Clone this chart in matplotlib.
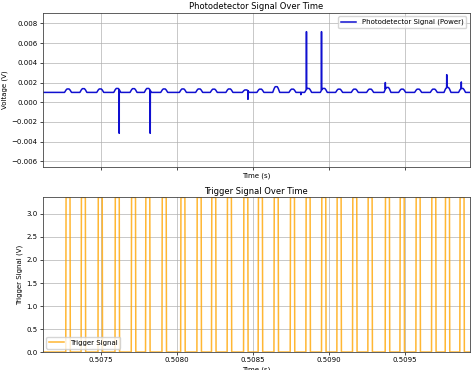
import numpy as np
import matplotlib
matplotlib.use("Agg")
import matplotlib.pyplot as plt

# time window shown (s)
t_start = 0.507116
t_end = 0.509928

# trigger pulse centres
pulse_t = [0.507283, 0.507384, 0.507495, 0.507607, 0.507714, 0.507808,
           0.507916, 0.508039, 0.508146, 0.508242, 0.508345, 0.508453,
           0.508549, 0.508653, 0.508760, 0.508863, 0.508966, 0.509067,
           0.509170, 0.509271, 0.509385, 0.509482, 0.509587, 0.509690,
           0.509780, 0.509876]
pulse_high = 3.36
pulse_width = 0.000026

# photodetector: baseline, hump peak at each trigger, spikes and dips
pd_base = 0.00100
bump_peak = [0.00135, 0.00138, 0.00135, 0.00140, 0.00138, 0.00140,
             0.00135, 0.00135, 0.00135, 0.00133, 0.00135, 0.00125,
             0.00133, 0.00158, 0.00133, 0.00140, 0.00140, 0.00133,
             0.00133, 0.00133, 0.00150, 0.00133, 0.00133, 0.00133,
             0.00150, 0.00140]
spike_t = [0.507620, 0.507824, 0.508852, 0.508951, 0.509371, 0.509775, 0.509871]
spike_v = [-0.00315, -0.00315, 0.00716, 0.00716, 0.00200, 0.00280, 0.00206]
dip_t = [0.508467, 0.508815]
dip_v = [0.00030, 0.00077]


def trigger_curve():
    t = [t_start]
    v = [0.0]
    half = pulse_width / 2
    for tc in pulse_t:
        t += [tc - half - 2e-6, tc - half, tc + half, tc + half + 2e-6]
        v += [0.0, pulse_high, pulse_high, 0.0]
    t.append(t_end)
    v.append(0.0)
    return np.array(t), np.array(v)


def photo_curve():
    px = 0.0005 / 76  # one pixel of the reference in seconds
    t = [t_start]
    v = [pd_base]
    for tc, pk in zip(pulse_t, bump_peak):
        h = pk - pd_base
        t += [tc - 3.5 * px, tc - 2 * px, tc - 1 * px, tc + 1 * px, tc + 2 * px, tc + 3.5 * px]
        v += [pd_base, pd_base + 0.7 * h, pk, pk, pd_base + 0.7 * h, pd_base]
    t.append(t_end)
    v.append(pd_base)
    t = np.array(t)
    v = np.array(v)
    extra_t = list(spike_t) + list(dip_t)
    extra_v = list(spike_v) + list(dip_v)
    for te, ve in zip(extra_t, extra_v):
        sh = np.interp([te - 0.7e-6, te + 0.7e-6], t, v)
        idx = np.searchsorted(t, te)
        t = np.insert(t, idx, [te - 0.7e-6, te, te + 0.7e-6])
        v = np.insert(v, idx, [sh[0], ve, sh[1]])
    return t, v


plt.rcParams.update({
    "font.size": 5.0,
    "axes.titlesize": 6.0,
    "axes.labelsize": 5.0,
    "xtick.labelsize": 5.0,
    "ytick.labelsize": 5.0,
    "legend.fontsize": 5.0,
    "axes.linewidth": 0.6,
    "axes.edgecolor": "#444444",
    "xtick.major.size": 2.0,
    "ytick.major.size": 2.0,
    "xtick.major.width": 0.5,
    "ytick.major.width": 0.5,
    "xtick.major.pad": 1.8,
    "ytick.major.pad": 1.8,
})

fig = plt.figure(figsize=(4.74, 3.70), dpi=100)
ax1 = fig.add_axes([0.090, 0.5495, 0.9015, 0.4162])
ax2 = fig.add_axes([0.090, 0.0486, 0.9015, 0.4182], sharex=ax1)

# Photodetector
pt, pv = photo_curve()
ax1.plot(pt, pv, color="#1010d0", linewidth=1.1, label="Photodetector Signal (Power)")
ax1.set_ylim(-0.00653, 0.00908)
ax1.set_title("Photodetector Signal Over Time", pad=2.5)
ax1.set_xlabel("Time (s)", labelpad=2)
ax1.set_ylabel("Voltage (V)", labelpad=2)
ax1.legend(loc="upper right", handlelength=2.2, borderpad=0.4, framealpha=0.8)
ax1.grid(True, color="#b0b0b0", linewidth=0.7, alpha=0.7)
ax1.tick_params(labelbottom=False)

# Trigger
tt, tv = trigger_curve()
ax2.plot(tt, tv, color="orange", alpha=0.8, linewidth=1.1, label="Trigger Signal")
ax2.set_ylim(0, 3.363)
ax2.set_xlim(t_start, t_end)
ax2.set_title("Trigger Signal Over Time", pad=2.5)
ax2.set_xlabel("Time (s)", labelpad=2)
ax2.set_ylabel("Trigger Signal (V)", labelpad=2)
ax2.legend(loc="lower left", handlelength=2.2, borderpad=0.4, framealpha=0.8)
ax2.grid(True, color="#b0b0b0", linewidth=0.7, alpha=0.7)
ax2.set_xticks([0.5075, 0.5080, 0.5085, 0.5090, 0.5095])
ax2.set_xticklabels(["0.5075", "0.5080", "0.5085", "0.5090", "0.5095"])

fig.savefig("out.png", dpi=100)
